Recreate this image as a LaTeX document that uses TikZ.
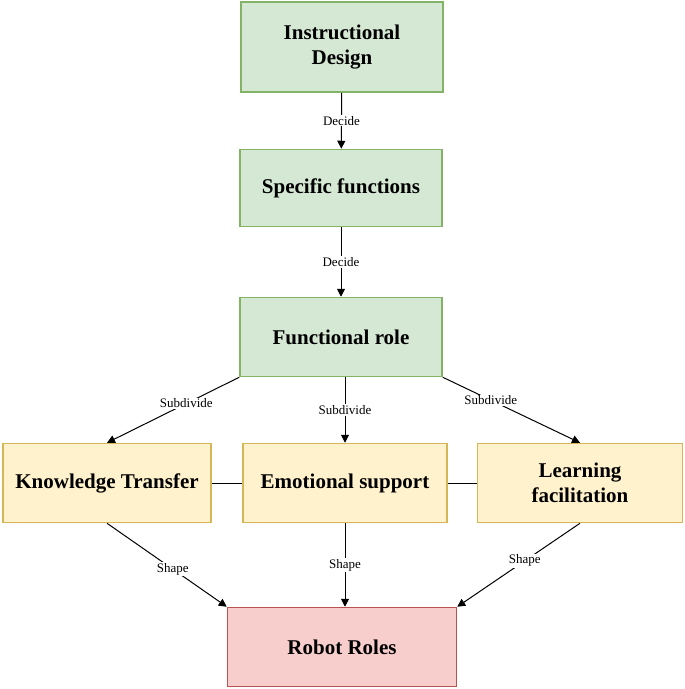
\documentclass[tikz,border=0pt]{standalone}
\usepackage{fontspec}
\setmainfont{Liberation Serif}
\usetikzlibrary{arrows.meta}
\definecolor{gfill}{HTML}{D5E8D4}\definecolor{gline}{HTML}{82B366}
\definecolor{yfill}{HTML}{FFF2CC}\definecolor{yline}{HTML}{D6B656}
\definecolor{rfill}{HTML}{F8CECC}\definecolor{rline}{HTML}{B85450}
\begin{document}
\begin{tikzpicture}[x=1pt,y=-1pt,
 box/.style={draw,line width=1.5pt,minimum width=#1,align=center,font=\fontsize{21}{25}\selectfont\bfseries,inner sep=2pt},
 g/.style={box=202pt,fill=gfill,draw=gline},
 yb/.style={box=206pt,fill=yfill,draw=yline,minimum height=79pt},
 arr/.style={-{Triangle[length=8pt,width=8pt]},line width=1pt},
 lab/.style={fill=white,font=\fontsize{13}{15}\selectfont,inner sep=1pt}]
\useasboundingbox (0,0) rectangle (685,689);
\node[g,minimum height=90pt] (a) at (342,47) {Instructional\\Design};
\node[g,minimum height=77pt] (b) at (341,188) {Specific functions};
\node[g,minimum height=79pt] (c) at (341,337) {Functional role};
\node[yb,minimum width=208pt] (k) at (107,483) {Knowledge Transfer};
\node[yb,minimum width=204pt] (e) at (345,483) {Emotional support};
\node[yb,minimum width=205pt] (l) at (580,483) {Learning\\facilitation};
\node[box=229pt,fill=rfill,draw=rline,minimum height=79pt] (r) at (342,647) {Robot Roles};
\draw[arr] (a) -- node[lab]{Decide} (b);
\draw[arr] (b) -- node[lab]{Decide} (c);
\draw[arr] (c.south west) -- node[lab,pos=0.4]{Subdivide} (k.north);
\draw[arr] (e.north |- c.south) -- node[lab]{Subdivide} (e.north);
\draw[arr] (c.south east) -- node[lab,pos=0.35]{Subdivide} (l.north);
\draw[line width=1pt] (k) -- (e) (e) -- (l);
\draw[arr] (k.south) -- node[lab,pos=0.55]{Shape} (r.north west);
\draw[arr] (e.south) -- node[lab]{Shape} (e.south |- r.north);
\draw[arr] (l.south) -- node[lab,pos=0.45]{Shape} (r.north east);
\end{tikzpicture}
\end{document}
